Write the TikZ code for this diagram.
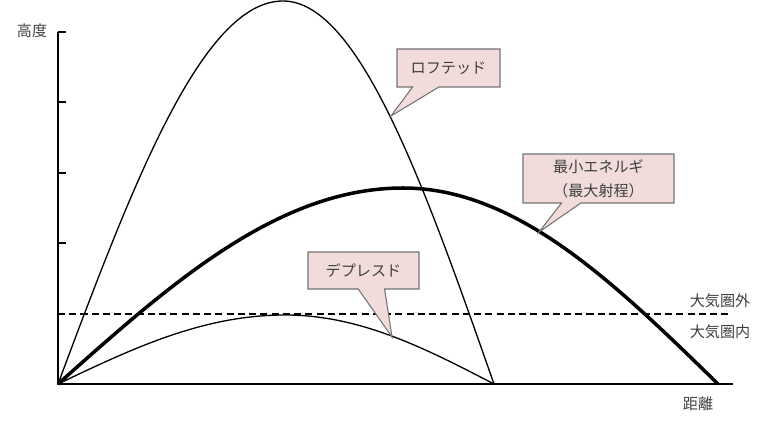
\documentclass[tikz,border=0pt]{standalone}
\usepackage{fontspec}
\setmainfont{Noto Sans CJK JP}
\usetikzlibrary{shapes.callouts}
\definecolor{balloonfill}{HTML}{F2DCDB}
\definecolor{labeltext}{HTML}{404040}

\begin{document}
\begin{tikzpicture}[x=0.02cm,y=-0.02cm,
	every node/.style={font=\fontsize{8.6}{13.6}\selectfont, text=labeltext},
	axis/.style={line width=1.1pt},
	traj/.style={line width=0.75pt},
	boldtraj/.style={line width=2pt},
	balloon/.style={rectangle callout, draw=black!55, fill=balloonfill,
		line width=0.6pt, inner sep=0pt, callout pointer width=15pt}]
	\useasboundingbox (0,0) rectangle (768,425);
	
	% axes and ticks
	\coordinate (O) at (58,384);
	\coordinate (ytop) at (58,32);
	\coordinate (xend) at (733,384);
	\draw[axis] (ytop) -- (O) -- (xend);
	\foreach \y in {32,102,173,243}
		\draw[axis] (58,\y) -- (66,\y);
	
	% edge of the atmosphere
	\coordinate (atmL) at (58,314);
	\coordinate (atmR) at (731,314);
	\draw[line width=0.8pt, dash pattern=on 4pt off 2.4pt] (atmL) -- (atmR);
	
	% the three trajectories
	\coordinate (loftpeak) at (283,1);
	\coordinate (loftend) at (494,384);
	\coordinate (minpeak) at (403,188);
	\coordinate (minend) at (718,384);
	\coordinate (deppeak) at (285,315);
	\draw[traj] (O) sin (loftpeak) cos (loftend);
	\draw[boldtraj] (O) sin (minpeak) cos (minend);
	\draw[traj] (O) sin (deppeak) cos (loftend);
	
	% callouts
	\coordinate (lofttip) at (391,116);
	\coordinate (mintip) at (539,232);
	\coordinate (deptip) at (392,337);
	\node[balloon, minimum width=2.06cm, minimum height=0.76cm,
		callout absolute pointer={(lofttip)}] (loft) at (448.5,68) {ロフテッド};
	\node[balloon, minimum width=3.02cm, minimum height=0.98cm, align=center,
		callout pointer width=11pt,
		callout absolute pointer={(mintip)}] (minE) at (598.5,178.5) {最小エネルギ\\（最大射程）};
	\node[balloon, minimum width=2.22cm, minimum height=0.74cm,
		callout absolute pointer={(deptip)}] (depr) at (363.5,270.5) {デプレスド};
	
	% labels
	\node (height) at (32,31) {高度};
	\node (dist) at (698,404) {距離};
	\node (outer) at (720,301) {大気圏外};
	\node (inner) at (720,332) {大気圏内};
\end{tikzpicture}
\end{document}
